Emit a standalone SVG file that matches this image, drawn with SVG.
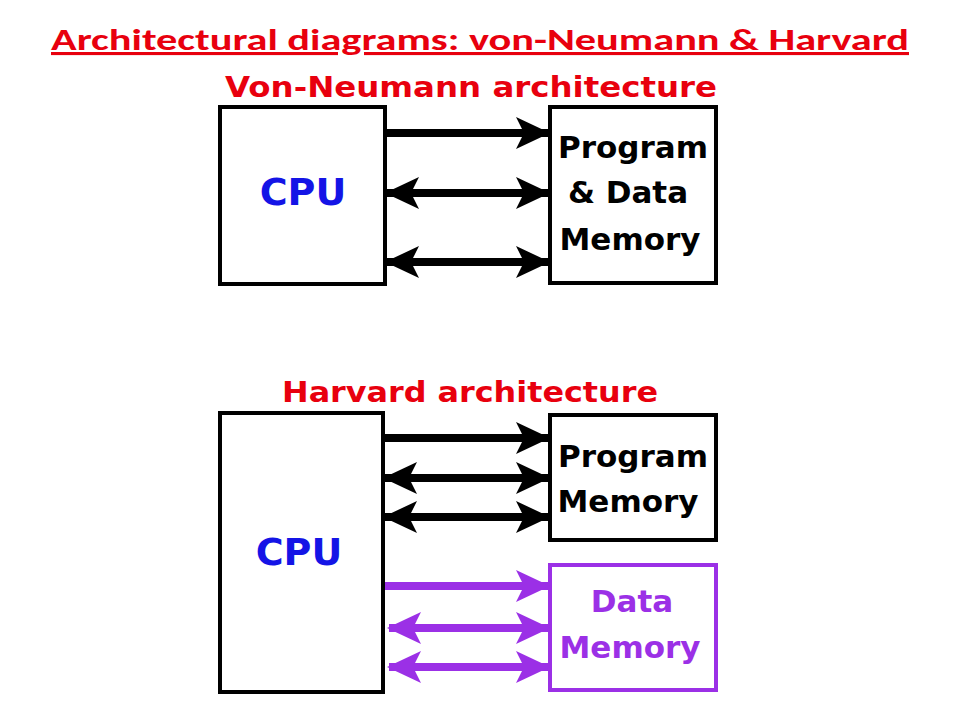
<svg xmlns="http://www.w3.org/2000/svg" width="960" height="720" viewBox="0 0 960 720">
<defs>
<marker id="ah" markerUnits="userSpaceOnUse" markerWidth="34" markerHeight="34" refX="32" refY="16" orient="auto-start-reverse" viewBox="0 0 34 32"><path d="M0,0 L34,16 L0,32 L8,16 Z" fill="context-stroke"/></marker>
<marker id="ahk" markerUnits="userSpaceOnUse" markerWidth="34" markerHeight="34" refX="32" refY="16" orient="auto-start-reverse" viewBox="0 0 34 32"><path d="M0,0 L34,16 L0,32 L8,16 Z" fill="#000"/></marker>
<marker id="ahp" markerUnits="userSpaceOnUse" markerWidth="34" markerHeight="34" refX="32" refY="16" orient="auto-start-reverse" viewBox="0 0 34 32"><path d="M0,0 L34,16 L0,32 L8,16 Z" fill="#9b30e6"/></marker>
</defs>
<style>
.box{fill:#fff;stroke:#000;stroke-width:4}
.pbox{fill:#fff;stroke:#9b30e6;stroke-width:4}
.sub{font-family:"DejaVu Sans",Verdana,sans-serif;font-weight:bold;fill:#e8000e;font-size:29px;text-anchor:middle}
.cpu{font-family:"DejaVu Sans",Verdana,sans-serif;font-weight:bold;fill:#1414e6;font-size:38px;text-anchor:middle}
.mem{font-family:"DejaVu Sans",Verdana,sans-serif;font-weight:bold;fill:#000;font-size:31px;text-anchor:middle}
.pm{fill:#9b30e6}
.k{stroke:#000;stroke-width:8;fill:none;marker-end:url(#ahk)}
.kb{marker-start:url(#ahk)}
.p{stroke:#9b30e6;stroke-width:8;fill:none;marker-end:url(#ahp)}
.pb{marker-start:url(#ahp)}
</style>
<rect width="960" height="720" fill="#fff"/>
<text x="480" y="50" font-family="Carlito,'Liberation Sans',sans-serif" font-weight="bold" font-size="31" fill="#e8000e" text-anchor="middle" text-decoration="underline" textLength="858" lengthAdjust="spacingAndGlyphs">Architectural diagrams: von-Neumann &amp; Harvard</text>
<text class="sub" x="471" y="97" textLength="492" lengthAdjust="spacingAndGlyphs">Von-Neumann architecture</text>
<text class="sub" x="470" y="402" textLength="376" lengthAdjust="spacingAndGlyphs">Harvard architecture</text>
<g id="vn-cpu"><rect class="box" x="220" y="107" width="165" height="177"/><text class="cpu" x="303" y="205">CPU</text></g>
<g id="vn-mem"><rect class="box" x="550" y="107" width="166" height="176"/><text class="mem" x="633" y="158">Program</text><text class="mem" x="628" y="203">&amp; Data</text><text class="mem" x="630" y="250">Memory</text></g>
<g id="h-cpu"><rect class="box" x="220" y="413" width="163" height="279"/><text class="cpu" x="299" y="565">CPU</text></g>
<g id="h-pmem"><rect class="box" x="550" y="415" width="166" height="125"/><text class="mem" x="633" y="467">Program</text><text class="mem" x="628" y="512">Memory</text></g>
<g id="h-dmem"><rect class="pbox" x="550" y="565" width="166" height="125"/><text class="mem pm" x="632" y="612">Data</text><text class="mem pm" x="630" y="658">Memory</text></g>
<g id="connectors">
<line class="k" x1="385" y1="133" x2="548" y2="133"/>
<line class="k kb" x1="387" y1="193" x2="548" y2="193"/>
<line class="k kb" x1="387" y1="262" x2="548" y2="262"/>
<line class="k" x1="383" y1="438" x2="548" y2="438"/>
<line class="k kb" x1="385" y1="478" x2="548" y2="478"/>
<line class="k kb" x1="385" y1="517" x2="548" y2="517"/>
<line class="p" x1="385" y1="586" x2="548" y2="586"/>
<line class="p pb" x1="389" y1="628" x2="548" y2="628"/>
<line class="p pb" x1="389" y1="667" x2="548" y2="667"/>
</g>
</svg>
